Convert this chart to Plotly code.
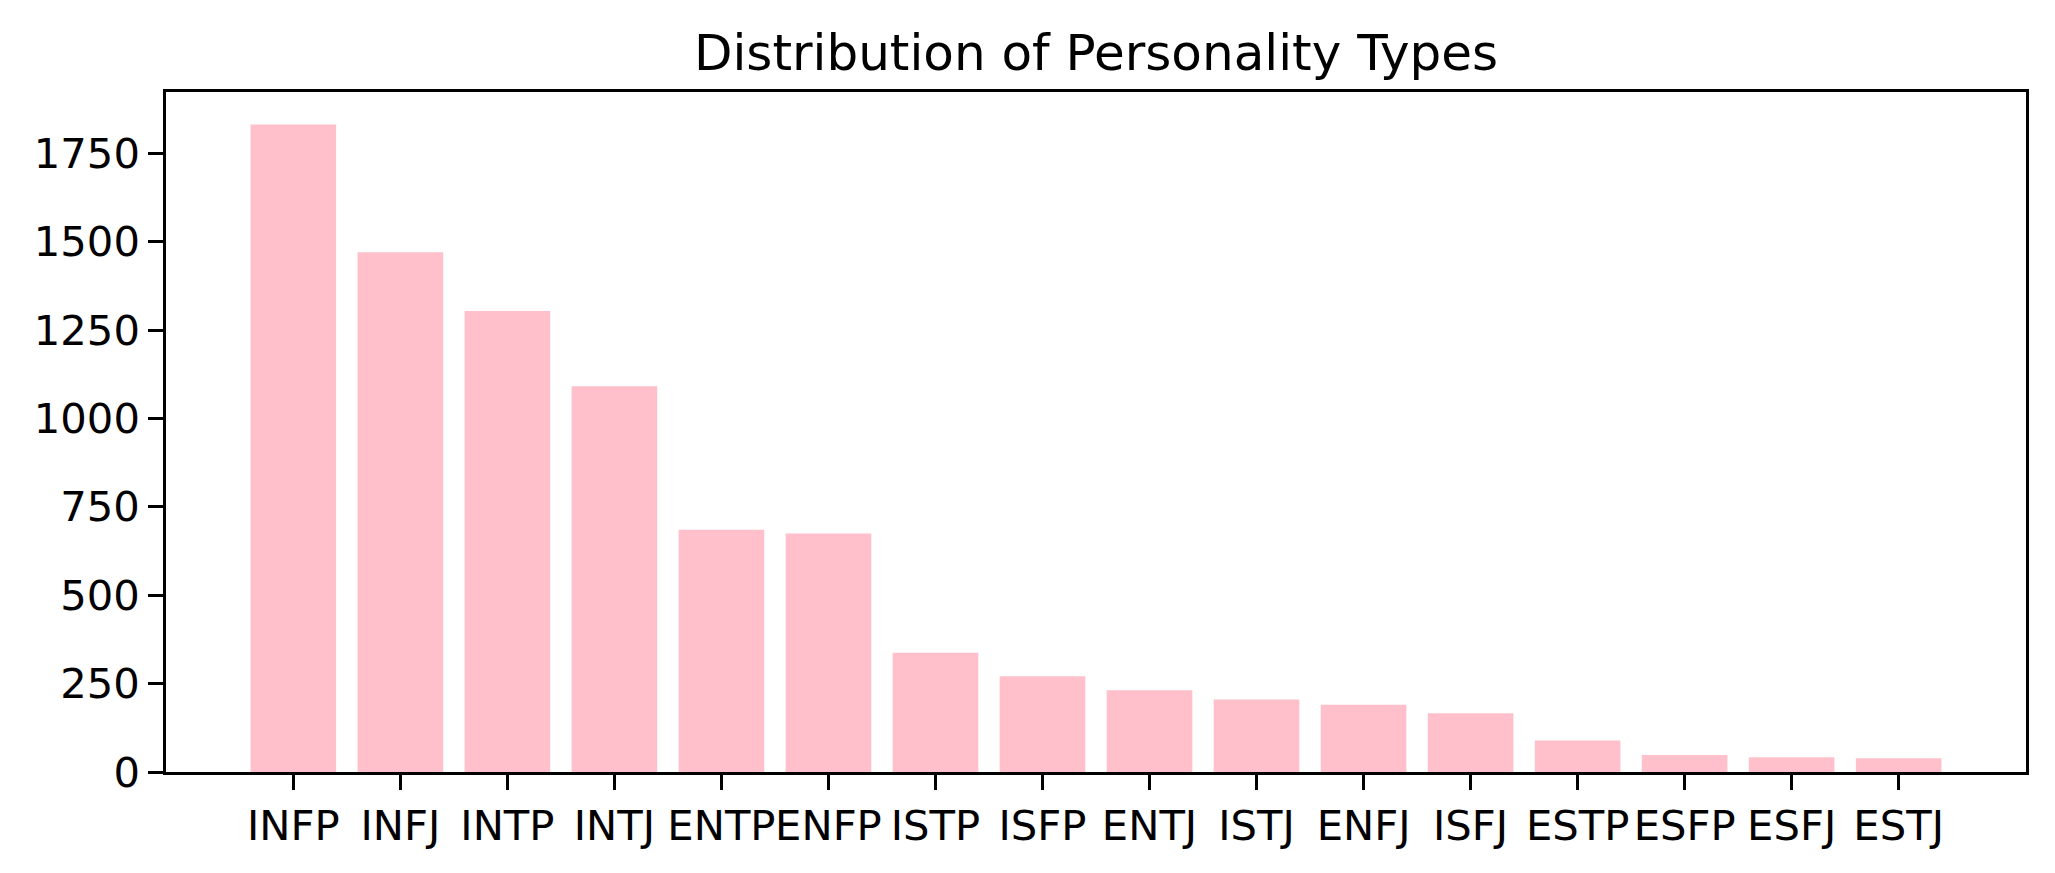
import plotly.graph_objects as go

# personality type counts (sorted)
types = ["INFP", "INFJ", "INTP", "INTJ", "ENTP", "ENFP", "ISTP", "ISFP",
         "ENTJ", "ISTJ", "ENFJ", "ISFJ", "ESTP", "ESFP", "ESFJ", "ESTJ"]
counts = [1832, 1470, 1304, 1091, 685, 675, 337, 271,
          231, 205, 190, 166, 89, 48, 42, 39]
y_ticks = [0, 250, 500, 750, 1000, 1250, 1500, 1750]

W, H = 2055, 873
L, R, T, B = 166, 29, 92, 101
FONT = "DejaVu Sans"

fig = go.Figure()
fig.add_trace(go.Bar(
    x=types,
    y=counts,
    width=0.8,
    marker=dict(color="#FFC0CB", line=dict(width=0)),
))

n = len(types)
pad = 0.05 * (n - 1 + 0.8)
ymax = max(counts) * 1.05

axis_common = dict(
    showline=True, linecolor="black", linewidth=3.3, mirror=True,
    ticks="outside", ticklen=14.6, tickwidth=3.3, tickcolor="black",
    showgrid=False, zeroline=False,
    tickfont=dict(family=FONT, size=41.7, color="black"),
)

fig.update_layout(
    width=W, height=H,
    margin=dict(l=L, r=R, t=T, b=B),
    paper_bgcolor="white", plot_bgcolor="white",
    showlegend=False,
    title=dict(
        text="Distribution of Personality Types",
        font=dict(family=FONT, size=50, color="black"),
        xref="paper", x=0.5, xanchor="center",
        yref="container", y=1 - 52 / H, yanchor="middle",
    ),
    xaxis=dict(axis_common, type="category", tickangle=0,
               range=[-0.4 - pad, n - 1 + 0.4 + pad]),
    yaxis=dict(axis_common, range=[0, ymax],
               tickvals=y_ticks, ticktext=[str(v) for v in y_ticks]),
)

# drop the default page margin so the figure sits at the window corner
fig.write_html("out.html", config={"displayModeBar": False},
               post_script="document.body.style.margin='0px';")
